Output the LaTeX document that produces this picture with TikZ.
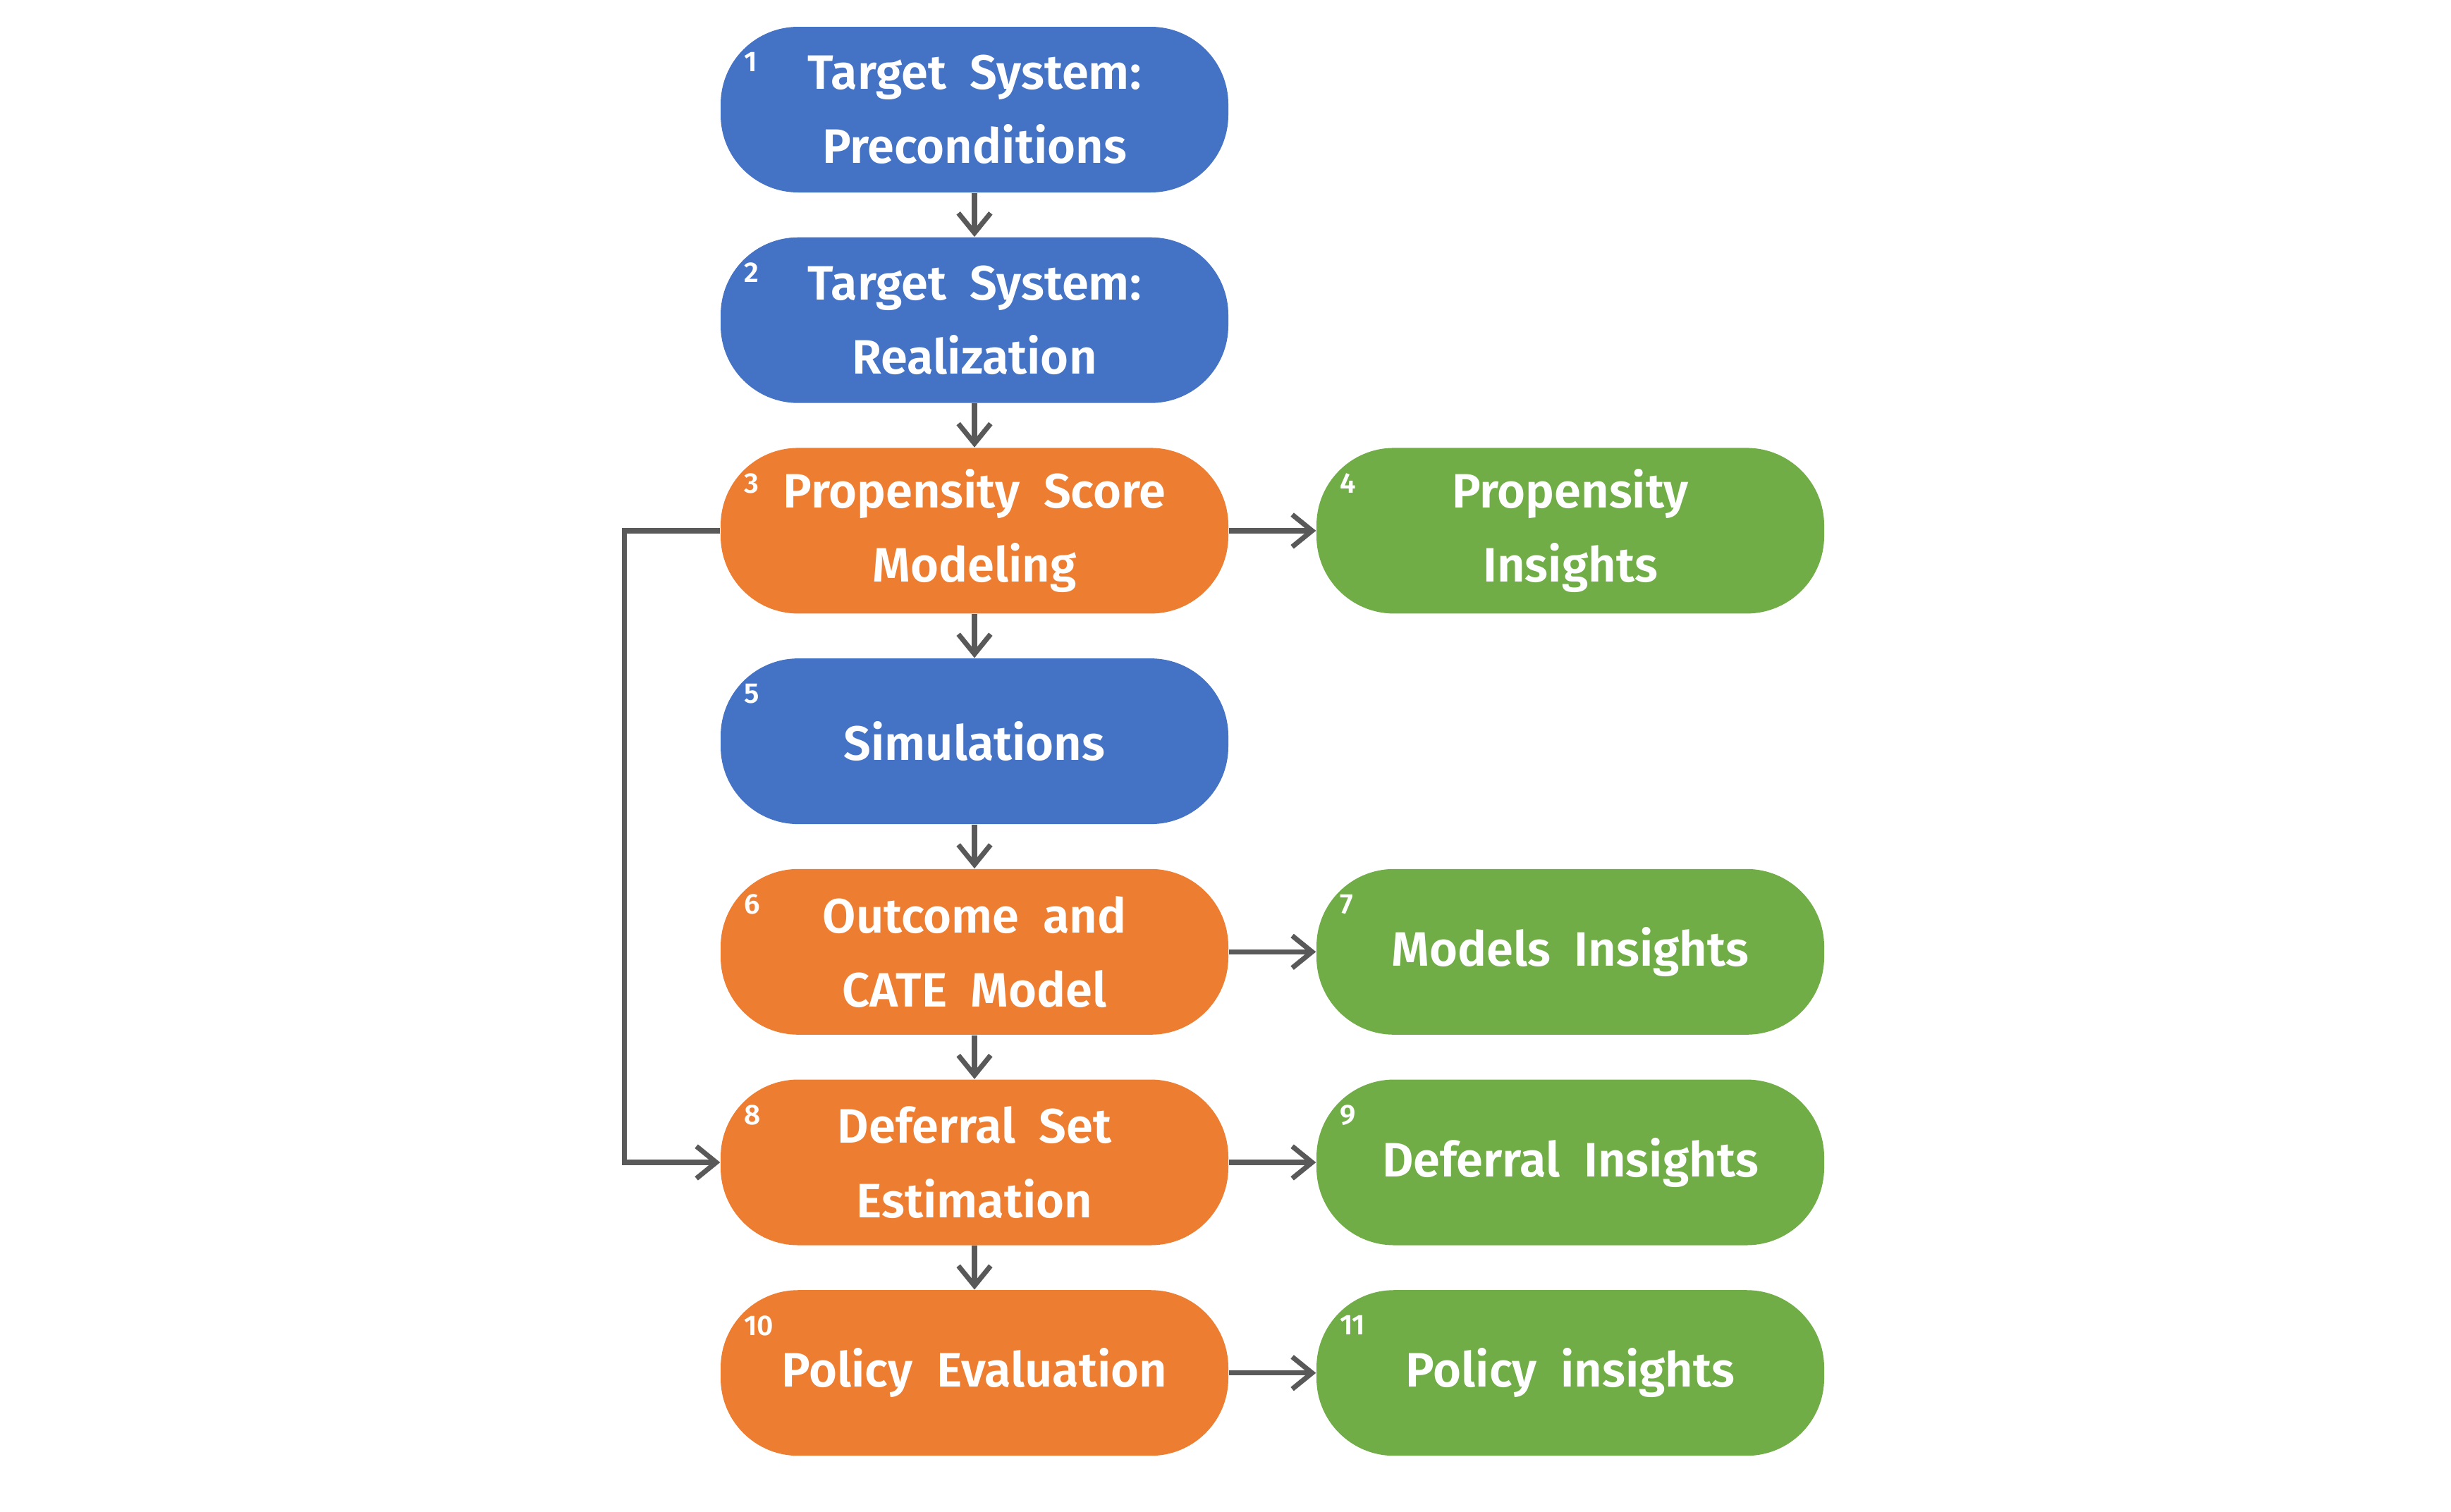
\documentclass[tikz,border=0pt]{standalone}
\usepackage{fontspec}
\setmainfont{Fira Sans}[BoldFont={Fira Sans SemiBold}]
\usepackage{xcolor}
\usepackage{tikz}
\usetikzlibrary{arrows.meta,positioning,calc}
\definecolor{stageblue}{HTML}{4472C4}
\definecolor{stageorange}{HTML}{ED7D31}
\definecolor{stagegreen}{HTML}{70AD47}
\definecolor{arrowgray}{HTML}{595959}

\begin{document}
\begin{tikzpicture}[
  box/.style={rectangle, rounded corners=1.1cm, minimum width=7.2cm, minimum height=2.35cm, align=center, text=white, font=\fontsize{19.5}{30}\selectfont\bfseries},
  num/.style={anchor=north west, inner sep=0pt, text=white, font=\fontsize{11.5}{13}\selectfont\bfseries},
  arr/.style={-{Straight Barb[length=8pt, width=13pt, line width=2pt]}, line width=2.1pt, draw=arrowgray},
  every node/.style={inner sep=4pt}
]
\useasboundingbox (0,0) rectangle (34.76,-21.44);

% Main column
\node[box, fill=stageblue] (pre) at (13.82,-1.555) {Target\ \ System:\\Preconditions};
\node[box, fill=stageblue] (real) at (13.82,-4.542) {Target\ \ System:\\Realization};
\node[box, fill=stageorange] (prop) at (13.82,-7.529) {Propensity\ \ Score\\Modeling};
\node[box, fill=stageblue] (sim) at (13.82,-10.516) {Simulations};
\node[box, fill=stageorange] (cate) at (13.82,-13.503) {Outcome\ \ and\\CATE\ \ Model};
\node[box, fill=stageorange] (defer) at (13.82,-16.490) {Deferral\ \ Set\\Estimation};
\node[box, fill=stageorange] (policy) at (13.82,-19.477) {Policy\ \ Evaluation};

% Insights column
\node[box, fill=stagegreen] (propins) at (22.27,-7.529) {Propensity\\Insights};
\node[box, fill=stagegreen] (modins) at (22.27,-13.503) {Models\ \ Insights};
\node[box, fill=stagegreen] (defins) at (22.27,-16.490) {Deferral\ \ Insights};
\node[box, fill=stagegreen] (polins) at (22.27,-19.477) {Policy\ \ insights};

% Step numbers
\node[num] (n1) at ($(pre.north west)+(0.33,-0.36)$) {1};
\node[num] (n2) at ($(real.north west)+(0.33,-0.36)$) {2};
\node[num] (n3) at ($(prop.north west)+(0.33,-0.36)$) {3};
\node[num] (n4) at ($(propins.north west)+(0.33,-0.36)$) {4};
\node[num] (n5) at ($(sim.north west)+(0.33,-0.36)$) {5};
\node[num] (n6) at ($(cate.north west)+(0.33,-0.36)$) {6};
\node[num] (n7) at ($(modins.north west)+(0.33,-0.36)$) {7};
\node[num] (n8) at ($(defer.north west)+(0.33,-0.36)$) {8};
\node[num] (n9) at ($(defins.north west)+(0.33,-0.36)$) {9};
\node[num] (n10) at ($(policy.north west)+(0.33,-0.36)$) {10};
\node[num] (n11) at ($(polins.north west)+(0.33,-0.36)$) {11};

% Flow
\draw[arr] (pre) -- (real);
\draw[arr] (real) -- (prop);
\draw[arr] (prop) -- (sim);
\draw[arr] (sim) -- (cate);
\draw[arr] (cate) -- (defer);
\draw[arr] (defer) -- (policy);

% To insights
\draw[arr] (prop) -- (propins);
\draw[arr] (cate) -- (modins);
\draw[arr] (defer) -- (defins);
\draw[arr] (policy) -- (polins);

% Shortcut
\draw[arr] (prop.west) -- ++(-1.36,0) |- (defer.west);

\end{tikzpicture}
\end{document}
